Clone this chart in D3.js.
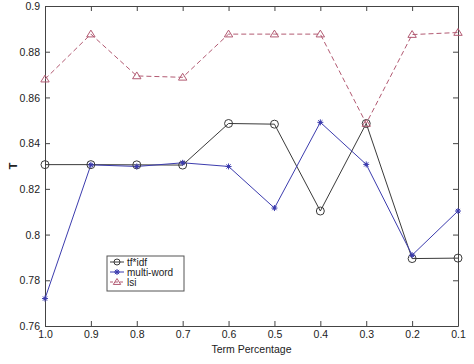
<!DOCTYPE html>
<html><head><meta charset="utf-8">
<script src="https://cdn.jsdelivr.net/npm/d3@7"></script>
<style>body{margin:0;background:#fff;}svg{display:block;}</style>
</head><body>
<script>
const categories = ["1.0","0.9","0.8","0.7","0.6","0.5","0.4","0.3","0.2","0.1"];
const tfidf = [0.8306,0.8306,0.8305,0.8304,0.8486,0.8483,0.8103,0.8486,0.7895,0.7897];
const multiword = [0.7720,0.8305,0.8298,0.8314,0.8298,0.8116,0.8491,0.8307,0.7910,0.8103];
const lsi = [0.8680,0.8877,0.8694,0.8688,0.8877,0.8877,0.8877,0.8486,0.8875,0.8884];
const yTicks = [0.76,0.78,0.8,0.82,0.84,0.86,0.88,0.9];
const seriesNames = ["tf*idf","multi-word","lsi"];

const W=474,H=364;
const m={l:45,r:16,t:6,b:38};
const svg=d3.select("body").append("svg").attr("width",W).attr("height",H);
const font="Liberation Sans, Arial, sans-serif";
const x=d3.scalePoint().domain(categories).range([m.l,W-m.r]);
const y=d3.scaleLinear().domain([0.76,0.9]).range([H-m.b,m.t]);
const pw=W-m.r-m.l, ph=H-m.b-m.t;

const axCol="#444";
const gB=svg.append("g").attr("transform",`translate(0,${H-m.b})`)
  .call(d3.axisBottom(x).tickSizeInner(-5).tickSizeOuter(0).tickPadding(5));
const gL=svg.append("g").attr("transform",`translate(${m.l},0)`)
  .call(d3.axisLeft(y).tickValues(yTicks).tickFormat(d=>d3.format("")(+d.toFixed(2))).tickSizeInner(-5).tickSizeOuter(0).tickPadding(5));
const gT=svg.append("g").attr("transform",`translate(0,${m.t})`)
  .call(d3.axisTop(x).tickSizeInner(-5).tickSizeOuter(0).tickFormat(""));
const gR=svg.append("g").attr("transform",`translate(${W-m.r},0)`)
  .call(d3.axisRight(y).tickValues(yTicks).tickSizeInner(-5).tickSizeOuter(0).tickFormat(""));
[gB,gL,gT,gR].forEach(g=>{
  g.selectAll("path,line").attr("stroke",axCol).attr("stroke-width",1);
  g.selectAll("text").attr("font-family",font).attr("font-size",10.5).attr("fill","#222");
});
gL.selectAll("text").attr("dy","0.35em");

svg.append("text").attr("x",m.l+pw/2).attr("y",H-11).attr("text-anchor","middle")
  .attr("font-family",font).attr("font-size",10.5).attr("fill","#222").text("Term Percentage");
svg.append("text").attr("transform",`translate(17,${m.t+ph/2}) rotate(-90)`).attr("text-anchor","middle")
  .attr("font-family",font).attr("font-size",11).attr("font-weight","bold").attr("fill","#222").text("T");

const cols={tf:"#3a3a3a",mw:"#3c3cae",lsi:"#b25a72"};
const line=d3.line().x((d,i)=>x(categories[i])).y(d=>y(d));

function drawStar(g,cx,cy,col,r){
  const p=g.append("g");
  for(let k=0;k<4;k++){
    const a=k*Math.PI/4;
    p.append("line").attr("x1",cx-r*Math.cos(a)).attr("y1",cy-r*Math.sin(a))
      .attr("x2",cx+r*Math.cos(a)).attr("y2",cy+r*Math.sin(a)).attr("stroke",col).attr("stroke-width",1);
  }
  p.append("circle").attr("cx",cx).attr("cy",cy).attr("r",1.5).attr("fill",col);
}
function drawTri(g,cx,cy,col,s){
  g.append("path").attr("d",`M${cx},${cy-s}L${cx+s*1.05},${cy+s*0.7}L${cx-s*1.05},${cy+s*0.7}Z`)
    .attr("fill","none").attr("stroke",col).attr("stroke-width",1);
}
function drawCirc(g,cx,cy,col,r){
  g.append("circle").attr("cx",cx).attr("cy",cy).attr("r",r).attr("fill","none").attr("stroke",col).attr("stroke-width",1);
}

svg.append("path").datum(lsi).attr("d",line).attr("fill","none").attr("stroke",cols.lsi).attr("stroke-width",1).attr("stroke-dasharray","5,3");
svg.append("path").datum(tfidf).attr("d",line).attr("fill","none").attr("stroke",cols.tf).attr("stroke-width",1);
svg.append("path").datum(multiword).attr("d",line).attr("fill","none").attr("stroke",cols.mw).attr("stroke-width",1);

const mk=svg.append("g");
tfidf.forEach((v,i)=>drawCirc(mk,x(categories[i]),y(v),cols.tf,4));
multiword.forEach((v,i)=>drawStar(mk,x(categories[i]),y(v),cols.mw,3));
lsi.forEach((v,i)=>drawTri(mk,x(categories[i]),y(v),cols.lsi,4));

const lg=svg.append("g");
lg.append("rect").attr("x",107).attr("y",256).attr("width",77).attr("height",35)
  .attr("fill","#fff").attr("stroke","#555").attr("stroke-width",1);
const rows=[262,272,282];
const lcols=[cols.tf,cols.mw,cols.lsi];
rows.forEach((ry,i)=>{
  lg.append("line").attr("x1",110).attr("x2",124).attr("y1",ry).attr("y2",ry)
    .attr("stroke",lcols[i]).attr("stroke-width",1).attr("stroke-dasharray",i===2?"3,2":null);
  if(i===0) drawCirc(lg,117,ry,lcols[i],3);
  if(i===1) drawStar(lg,117,ry,lcols[i],3);
  if(i===2) drawTri(lg,117,ry,lcols[i],3.5);
  lg.append("text").attr("x",127).attr("y",ry).attr("dy","0.35em").attr("font-family",font)
    .attr("font-size",10).attr("fill","#222").text(seriesNames[i]);
});
</script>
</body></html>
